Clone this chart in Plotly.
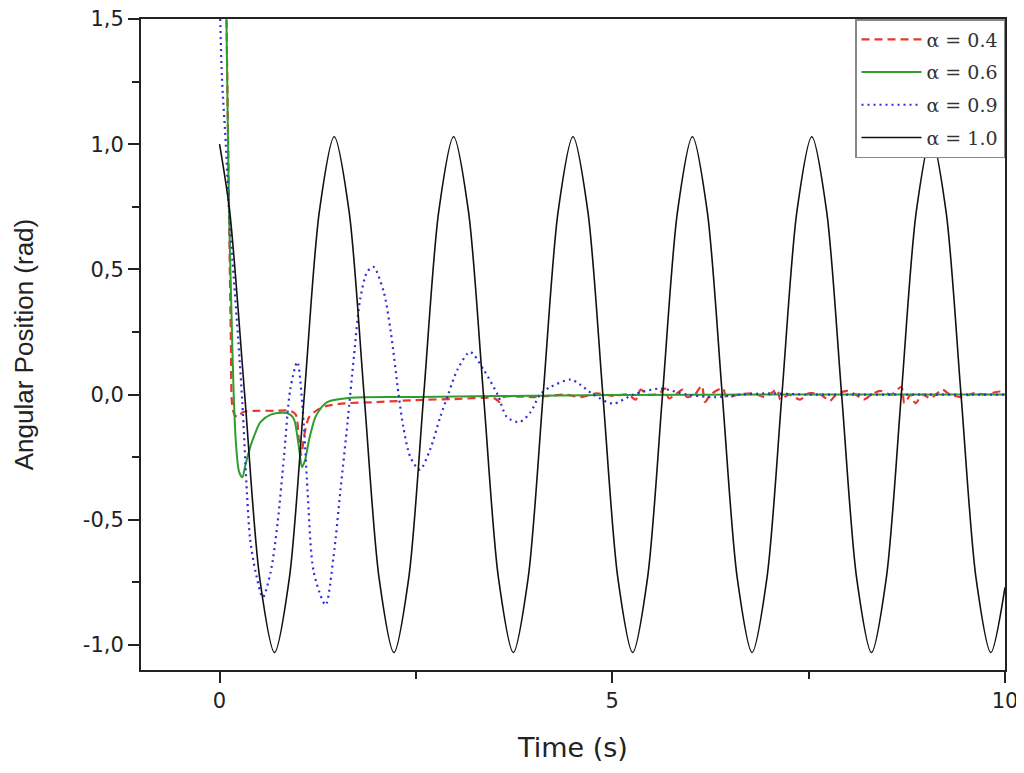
import plotly.graph_objects as go

# alpha = 0.4 (red dashed)
t_a04 = [0.085, 0.12, 0.145, 0.16, 0.19, 0.23, 0.30, 0.45, 0.70, 0.90, 0.97, 1.01, 1.04, 1.08, 1.14,
         1.25, 1.37, 1.60, 2.00, 2.50, 3.00, 3.50, 3.57, 3.62, 4.00, 4.20, 4.40, 4.60, 4.80, 5.00,
         5.20, 5.30, 5.36, 5.45, 5.60, 5.67, 5.72, 5.80, 5.90, 5.95, 6.05, 6.14, 6.18, 6.25, 6.41,
         6.45, 6.60, 6.80, 6.95, 7.10, 7.14, 7.25, 7.39, 7.50, 7.65, 7.77, 7.85, 7.99, 8.10, 8.20,
         8.30, 8.41, 8.55, 8.68, 8.72, 8.80, 8.86, 8.95, 9.05, 9.12, 9.20, 9.30, 9.45, 9.60, 9.75,
         9.94, 10.0]
y_a04 = [1.60, 0.75, 0.20, -0.04, -0.08, -0.09, -0.07, -0.065, -0.065, -0.065, -0.08, -0.18, -0.24,
         -0.16, -0.09, -0.06, -0.045, -0.035, -0.03, -0.022, -0.018, -0.015, -0.03, -0.01, -0.01,
         -0.005, 0.0, -0.01, 0.005, -0.005, 0.0, -0.02, 0.02, 0.0, 0.005, 0.025, -0.015, 0.0, 0.02,
         -0.01, 0.0, 0.035, -0.03, 0.0, 0.025, -0.01, 0.0, 0.005, -0.01, 0.02, -0.02, 0.0, -0.02,
         0.005, 0.0, -0.025, 0.0, 0.015, 0.0, -0.02, 0.0, 0.015, 0.0, 0.03, -0.035, 0.0, -0.035,
         0.0, -0.015, 0.0, 0.02, 0.0, -0.01, 0.005, 0.0, 0.012, 0.0]

# alpha = 0.6 (green solid)
t_a06 = [0.08, 0.09, 0.12, 0.15, 0.18, 0.21, 0.25, 0.29, 0.33, 0.39, 0.46, 0.52, 0.65, 0.82, 0.90,
         0.95, 1.01, 1.05, 1.09, 1.14, 1.22, 1.30, 1.37, 1.67, 2.50, 3.50, 5.00, 7.00, 10.0]
y_a06 = [1.70, 1.45, 0.75, 0.35, 0.0, -0.20, -0.31, -0.33, -0.28, -0.21, -0.15, -0.11, -0.08, -0.073,
         -0.08, -0.10, -0.21, -0.29, -0.26, -0.18, -0.09, -0.05, -0.03, -0.013, -0.01, -0.006,
         -0.002, 0.0, 0.0]

# alpha = 0.9 (blue dotted)
t_a09 = [0.00, 0.03, 0.08, 0.12, 0.18, 0.24, 0.29, 0.35, 0.39, 0.46, 0.55, 0.65, 0.74, 0.82, 0.90,
         0.99, 1.07, 1.12, 1.20, 1.35, 1.45, 1.54, 1.63, 1.71, 1.79, 1.88, 1.96, 2.09, 2.18, 2.28,
         2.34, 2.43, 2.55, 2.68, 2.81, 2.91, 3.03, 3.19, 3.36, 3.54, 3.66, 3.82, 3.96, 4.08, 4.21,
         4.47, 4.59, 4.76, 5.01, 5.27, 5.61, 5.95, 6.30, 6.65, 7.00, 7.50, 8.00, 9.00, 10.0]
y_a09 = [1.62, 1.27, 1.00, 0.74, 0.47, 0.21, -0.03, -0.40, -0.58, -0.71, -0.81, -0.71, -0.51, -0.25,
         0.02, 0.13, -0.11, -0.38, -0.71, -0.84, -0.65, -0.38, -0.11, 0.15, 0.38, 0.49, 0.51, 0.41,
         0.25, 0.0, -0.13, -0.25, -0.30, -0.22, -0.09, 0.0, 0.10, 0.17, 0.10, 0.0, -0.09, -0.11,
         -0.07, 0.0, 0.03, 0.06, 0.04, 0.0, -0.036, 0.0, 0.024, 0.0, -0.01, 0.0, 0.005, 0.0, 0.0,
         0.0, 0.0]

# alpha = 1.0 (black solid)
t_a10 = [0.00, 0.13, 0.32, 0.51, 0.70, 0.89, 1.08, 1.27, 1.46, 1.65, 1.84, 2.03, 2.22, 2.41, 2.60,
         2.79, 2.98, 3.17, 3.36, 3.55, 3.74, 3.93, 4.12, 4.31, 4.50, 4.69, 4.88, 5.07, 5.26, 5.45,
         5.64, 5.83, 6.02, 6.21, 6.40, 6.59, 6.78, 6.97, 7.16, 7.35, 7.54, 7.73, 7.92, 8.11, 8.30,
         8.49, 8.68, 8.87, 9.06, 9.25, 9.44, 9.63, 9.82, 10.0]
y_a10 = [1.00, 0.73, 0.0, -0.73, -1.03, -0.73, 0.0, 0.73, 1.03, 0.73, 0.0, -0.73, -1.03, -0.73, 0.0,
         0.73, 1.03, 0.73, 0.0, -0.73, -1.03, -0.73, 0.0, 0.73, 1.03, 0.73, 0.0, -0.73, -1.03, -0.73,
         0.0, 0.73, 1.03, 0.73, 0.0, -0.73, -1.03, -0.73, 0.0, 0.73, 1.03, 0.73, 0.0, -0.73, -1.03,
         -0.73, 0.0, 0.73, 1.03, 0.73, 0.0, -0.73, -1.03, -0.77]

y_ticks = [-1.0, -0.5, 0.0, 0.5, 1.0, 1.5]
y_labels = ["-1,0", "-0,5", "0,0", "0,5", "1,0", "1,5"]
x_ticks = [0, 5, 10]

fig = go.Figure()
series = [
    ("α = 0.4", t_a04, y_a04, "#e8372e", "8px,5px", 2.2),
    ("α = 0.6", t_a06, y_a06, "#2e9e2e", "solid", 2.0),
    ("α = 0.9", t_a09, y_a09, "#2f2fd8", "2px,4px", 2.2),
    ("α = 1.0", t_a10, y_a10, "#111111", "solid", 1.6),
]
for i, (name, tx, ty, col, dash, w) in enumerate(series):
    fig.add_trace(go.Scatter(
        x=tx, y=ty, mode="lines", name=name, legendgroup=str(i),
        line=dict(color=col, dash=dash, width=w, shape="spline", smoothing=0.8),
    ))

axis_common = dict(
    showline=True, linecolor="#222", linewidth=2, mirror=True, automargin=False,
    showgrid=False, zeroline=False, ticks="outside", tickcolor="#222",
    tickwidth=2, ticklen=11, ticklabeloverflow="allow",
    tickfont=dict(family="DejaVu Sans", size=21, color="#222"),
)

# page has an 8px body margin: figure offset by 8px, sized to end at the window edge
fig.update_layout(
    width=1016, height=757,
    margin=dict(l=133, r=19, t=11, b=95),
    plot_bgcolor="white", paper_bgcolor="white",
    xaxis=dict(
        range=[-1.0, 10.0], tickvals=x_ticks,
        minor=dict(dtick=2.5, tick0=0, ticks="outside", ticklen=7, tickwidth=2, tickcolor="#222"),
        title=dict(text="Time (s)", font=dict(family="DejaVu Sans", size=27, color="#222"),
                   standoff=26),
        **axis_common,
    ),
    yaxis=dict(
        range=[-1.10, 1.5], tickvals=y_ticks, ticktext=y_labels,
        minor=dict(dtick=0.25, tick0=0, ticks="outside", ticklen=7, tickwidth=2, tickcolor="#222"),
        title=dict(text="Angular Position (rad)",
                   font=dict(family="Liberation Sans", size=26, color="#222"), standoff=42),
        **axis_common,
    ),
    legend=dict(
        x=1.0, xanchor="right", y=1.0, yanchor="top",
        bgcolor="white", bordercolor="#888", borderwidth=1.5,
        font=dict(family="DejaVu Serif", size=19, color="#333"),
        tracegroupgap=5, traceorder="grouped", itemwidth=60,
    ),
)

fig.write_html("out.html")
